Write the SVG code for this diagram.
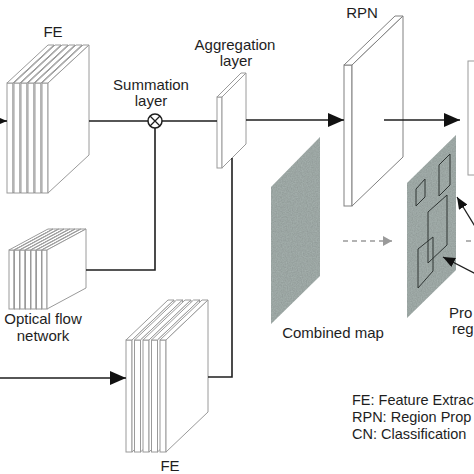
<svg xmlns="http://www.w3.org/2000/svg" xmlns:xlink="http://www.w3.org/1999/xlink" width="474" height="474" viewBox="0 0 474 474">
<style>
.plate{fill:#fff;stroke:#9a9a9a;stroke-width:1;stroke-linejoin:miter}
.rpn{fill:#fff;stroke:#808080;stroke-width:1}
.conn{fill:none;stroke:#1e1e1e;stroke-width:1.6}
.dash{fill:none;stroke:#9a9a9a;stroke-width:1.4;stroke-dasharray:5 4}
.thin{fill:none;stroke:#1e1e1e;stroke-width:1.2}
.map{fill:#a6b1ae}
.reg{fill:none;stroke:#2e3433;stroke-width:1}
text{font-family:"Liberation Sans",Arial,sans-serif;font-size:15px;fill:#1e1e1e}
.c{text-anchor:middle}
.leg{font-size:14.5px}
</style>
<defs>
<filter id="grain" x="0" y="0" width="100%" height="100%">
<feTurbulence type="fractalNoise" baseFrequency="0.8" numOctaves="2" seed="4" result="t"/>
<feColorMatrix in="t" type="matrix" values="0 0 0 0 0  0 0 0 0 0  0 0 0 0 0  0.32 0 0 0 -0.03" result="a"/>
<feComposite in="a" in2="SourceGraphic" operator="in" result="m"/>
<feMerge><feMergeNode in="SourceGraphic"/><feMergeNode in="m"/></feMerge>
</filter>
<marker id="big" markerUnits="userSpaceOnUse" markerWidth="16" markerHeight="14" refX="16" refY="7" orient="auto">
<path d="M0,0 L16,7 L0,14 Z" fill="#111"/>
</marker>
<marker id="gray" markerUnits="userSpaceOnUse" markerWidth="9" markerHeight="10" refX="9" refY="5" orient="auto">
<path d="M0,0 L9,5 L0,10 Z" fill="#9a9a9a"/>
</marker>
<marker id="small" markerUnits="userSpaceOnUse" markerWidth="12" markerHeight="10" refX="12" refY="5" orient="auto">
<path d="M0,0 L12,5 L0,10 Z" fill="#111"/>
</marker>
<g id="plateA">
<rect class="plate" x="0" y="0" width="6" height="110"/>
<polygon class="plate" points="0,0 6,0 47,-38 41,-38"/>
<polygon class="plate" points="6,0 47,-38 47,72 6,110"/>
</g>
<g id="plateB">
<rect class="plate" x="0" y="0" width="5" height="59"/>
<polygon class="plate" points="0,0 5,0 44,-21 39,-21"/>
<polygon class="plate" points="5,0 44,-21 44,38 5,59"/>
</g>
<g id="plateC">
<rect class="plate" x="0" y="0" width="6" height="112"/>
<polygon class="plate" points="0,0 6,0 48,-40 42,-40"/>
<polygon class="plate" points="6,0 48,-40 48,72 6,112"/>
</g>
</defs>
<rect width="474" height="474" fill="#fff"/>

<g id="fe-top">
<use xlink:href="#plateA" x="7" y="83"/>
<use xlink:href="#plateA" x="14" y="83"/>
<use xlink:href="#plateA" x="21" y="83"/>
<use xlink:href="#plateA" x="28" y="83"/>
<use xlink:href="#plateA" x="35" y="83"/>
<use xlink:href="#plateA" x="42" y="83"/>
<text class="c" x="53" y="37">FE</text>
</g>

<g id="optical-flow">
<use xlink:href="#plateB" x="9" y="250"/>
<use xlink:href="#plateB" x="14.5" y="250"/>
<use xlink:href="#plateB" x="20" y="250"/>
<use xlink:href="#plateB" x="25.5" y="250"/>
<use xlink:href="#plateB" x="31" y="250"/>
<use xlink:href="#plateB" x="36.5" y="250"/>
<use xlink:href="#plateB" x="42" y="250"/>
<text class="c" x="43" y="324">Optical flow</text>
<text class="c" x="43" y="341">network</text>
</g>

<g id="fe-bottom">
<use xlink:href="#plateC" x="126" y="340"/>
<use xlink:href="#plateC" x="134.5" y="340"/>
<use xlink:href="#plateC" x="143" y="340"/>
<use xlink:href="#plateC" x="151.5" y="340"/>
<use xlink:href="#plateC" x="160" y="340"/>
<text class="c" x="170" y="471">FE</text>
</g>

<g id="summation">
<circle cx="155" cy="121" r="7" fill="#fff" stroke="#1e1e1e" stroke-width="1.5"/>
<path d="M150,116 L160,126 M150,126 L160,116" stroke="#1e1e1e" stroke-width="1.3"/>
<text class="c" x="151" y="90">Summation</text>
<text class="c" x="151" y="106">layer</text>
</g>

<g id="aggregation">
<rect class="plate" x="217" y="97" width="5" height="71"/>
<polygon class="plate" points="217,97 222,97 246,73 241,73"/>
<polygon class="plate" points="222,97 246,73 246,144 222,168"/>
<text class="c" x="235" y="50">Aggregation</text>
<text class="c" x="236" y="66">layer</text>
</g>

<g id="rpn">
<rect class="rpn" x="344" y="65" width="8" height="141"/>
<polygon class="rpn" points="344,65 352,65 403,16 395,16"/>
<polygon class="rpn" points="352,65 403,16 403,157 352,206"/>
<text class="c" x="362" y="18">RPN</text>
</g>

<g id="cn">
<rect class="plate" x="468" y="61" width="20" height="114"/>
</g>

<g id="combined-map">
<polygon class="map" filter="url(#grain)" points="271,187 320,137 320,276 271,324"/>
<text class="c" x="333" y="338">Combined map</text>
</g>

<g id="proposal-map">
<polygon class="map" filter="url(#grain)" points="407,183 456,135 456,270 407,318"/>
<polygon class="reg" points="416,189 425,179 425,197 416,206"/>
<polygon class="reg" points="439,165 450,154 450,185 439,196"/>
<polygon class="reg" points="428,212 447,195 447,245 428,263"/>
<polygon class="reg" points="418,249 433,237 433,271 418,288"/>
</g>

<g id="proposed-regions-label">
<text x="449" y="318">Pro</text>
<text x="452" y="334">reg</text>
</g>

<g id="connectors">
<line class="conn" x1="-10" y1="121" x2="7" y2="121" marker-end="url(#big)"/>
<line class="conn" x1="89" y1="121" x2="148" y2="121"/>
<line class="conn" x1="162" y1="121" x2="217" y2="121"/>
<polyline class="conn" points="86,270 155,270 155,128"/>
<line class="conn" x1="246" y1="120" x2="344" y2="120" marker-end="url(#big)"/>
<line class="conn" x1="384" y1="120" x2="460" y2="120" marker-end="url(#big)"/>
<polyline class="conn" points="208,377 232,377 232,158"/>
<line class="conn" x1="0" y1="378" x2="126" y2="378" marker-end="url(#big)"/>
<line class="dash" x1="343" y1="241" x2="392" y2="241" marker-end="url(#gray)"/>
<line class="dash" x1="466" y1="241" x2="476" y2="241"/>
<line class="thin" x1="476" y1="228" x2="457" y2="197" marker-end="url(#small)"/>
<line class="thin" x1="476" y1="274" x2="443" y2="257" marker-end="url(#small)"/>
</g>

<g id="legend">
<text class="leg" x="352" y="405">FE: Feature Extrac</text>
<text class="leg" x="352" y="422">RPN: Region Prop</text>
<text class="leg" x="352" y="439">CN: Classification</text>
</g>
</svg>
